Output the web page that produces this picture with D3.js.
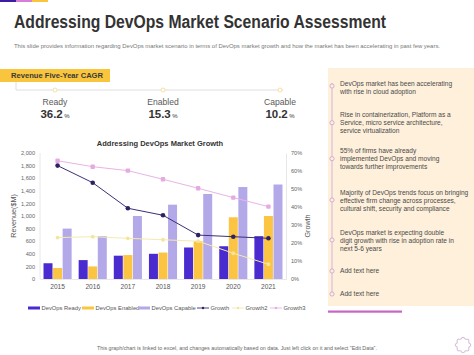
<!DOCTYPE html>
<html><head><meta charset="utf-8">
<script src="https://cdn.jsdelivr.net/npm/d3@7"></script>
<style>body{margin:0;background:#fff}svg{display:block;font-family:"Liberation Sans",Arial,sans-serif}</style>
</head><body>
<svg id="c" width="474" height="355"></svg>
<script>
const years = ["2015","2016","2017","2018","2019","2020","2021"];
const devopsReady = [250, 300, 370, 400, 500, 520, 680];
const devopsEnabled = [175, 200, 380, 420, 600, 980, 1000];
const devopsCapable = [800, 680, 1000, 1180, 1350, 1460, 1500];
const growth = [63, 53.5, 39.3, 35.4, 24.4, 23.5, 22.6];
const growth2 = [23, 23.5, 22.6, 21.8, 21, 14.3, 8.2];
const growth3 = [65.7, 62.4, 60.2, 55.4, 50.4, 45.2, 40.2];
const leftTicks = [0,200,400,600,800,1000,1200,1400,1600,1800,2000];
const rightTicks = [0,10,20,30,40,50,60,70];
const cagrNames = ["Ready","Enabled","Capable"];
const cagrValues = ["36.2","15.3","10.2"];
const notes = [
  ["DevOps  market has been accelerating","with rise in cloud adoption"],
  ["Rise in containerization, Platform as a","Service,  micro service architecture,","service virtualization"],
  ["55% of firms have  already","implemented DevOps and moving","towards further improvements"],
  ["Majority of DevOps  trends focus on bringing","effective  firm change across processes,","cultural shift, security and compliance"],
  ["DevOps  market is expecting double","digit growth with rise in adoption rate in","next 5-6 years"],
  ["Add text here"],
  ["Add text here"]
];

const svg = d3.select("#c");
const C = {ready:"#4a2bd0", enabled:"#fbc543", capable:"#b4a9e8", g:"#2f2163", g2:"#f5eaae", g3:"#e9b4e4"};

// top decoration
[["#3f1c9f",0],["#d67ed5",16],["#f8c53d",32]].forEach(([c,x])=>svg.append("rect").attr("x",x).attr("y",0).attr("width",16).attr("height",2).attr("fill",c));

svg.append("text").attr("x",14).attr("y",27.5).attr("font-size",18).attr("font-weight","bold").attr("fill","#333")
  .attr("textLength",372).attr("lengthAdjust","spacingAndGlyphs").text("Addressing DevOps Market Scenario Assessment");
svg.append("text").attr("x",14).attr("y",48).attr("font-size",6.2).attr("fill","#777")
  .attr("textLength",426).attr("lengthAdjust","spacingAndGlyphs")
  .text("This slide provides information regarding DevOps market scenario in terms of DevOps market growth and how the market has been accelerating in past few years.");

// CAGR box
svg.append("rect").attr("x",0).attr("y",69).attr("width",110).attr("height",13).attr("fill","#f8c53d");
svg.append("text").attr("x",11).attr("y",78.3).attr("font-size",7.6).attr("font-weight","bold").attr("fill","#3a3a3a").text("Revenue Five-Year CAGR");
svg.append("path").attr("d","M16,82V90H283").attr("fill","none").attr("stroke","#d6d6d6").attr("stroke-width",0.8);
const cagrPos = [55,163,280];
cagrNames.forEach((n,i)=>{
  const cx = cagrPos[i];
  svg.append("circle").attr("cx",cx).attr("cy",90).attr("r",2).attr("fill","#fff").attr("stroke","#f3d98a").attr("stroke-width",0.8);
  svg.append("text").attr("x",cx).attr("y",104.5).attr("text-anchor","middle").attr("font-size",8.6).attr("fill","#5a5a5a").text(n);
  const t = svg.append("text").attr("x",cx).attr("y",117.5).attr("text-anchor","middle").attr("fill","#333");
  t.append("tspan").attr("font-size",11.5).attr("font-weight","bold").text(cagrValues[i]);
  t.append("tspan").attr("font-size",6).attr("dx",1.5).text("%");
});

// chart
const x0 = d3.scaleBand().domain(years).range([40,286]).paddingInner(0.2).paddingOuter(0.1);
const series = ["ready","enabled","capable"];
const x1 = d3.scaleBand().domain(series).range([0,x0.bandwidth()]).paddingInner(0.06);
const yL = d3.scaleLinear().domain([0,2000]).range([279,153]);
const yR = d3.scaleLinear().domain([0,70]).range([279,153]);

svg.append("text").attr("x",160).attr("y",146).attr("text-anchor","middle").attr("font-size",7.5).attr("font-weight","bold").attr("fill","#333").text("Addressing DevOps Market Growth");

const axL = svg.append("g").attr("transform","translate(40,0)").call(d3.axisLeft(yL).tickValues(leftTicks).tickSize(0).tickPadding(5).tickFormat(d3.format(",")));
const axR = svg.append("g").attr("transform","translate(286,0)").call(d3.axisRight(yR).tickValues(rightTicks).tickSize(0).tickPadding(5).tickFormat(d=>d+"%"));
const axB = svg.append("g").attr("transform","translate(0,279)").call(d3.axisBottom(x0).tickSize(0).tickPadding(5));
[axL,axR,axB].forEach(a=>{a.selectAll("path").attr("stroke","#e2e2e2").attr("stroke-width",0.8);a.selectAll("text").attr("fill","#666").attr("font-size",5.6).attr("font-family","Liberation Sans, Arial, sans-serif");});
axB.selectAll("text").attr("font-size",6.6).attr("fill","#555");
axL.select("path").remove();
svg.append("line").attr("x1",40).attr("x2",40).attr("y1",153).attr("y2",279).attr("stroke","#e2e2e2").attr("stroke-width",0.8);

svg.append("text").attr("transform","translate(16,216) rotate(-90)").attr("text-anchor","middle").attr("font-size",7.2).attr("fill","#555").text("Revenue($M)");
svg.append("text").attr("transform","translate(310,226) rotate(-90)").attr("text-anchor","middle").attr("font-size",7.2).attr("fill","#555").text("Growth");

const barData = {ready:devopsReady, enabled:devopsEnabled, capable:devopsCapable};
series.forEach(s=>{
  svg.append("g").selectAll("rect").data(years).join("rect")
    .attr("x",d=>x0(d)+x1(s)).attr("width",x1.bandwidth())
    .attr("y",(d,i)=>yL(barData[s][i])).attr("height",(d,i)=>yL(0)-yL(barData[s][i]))
    .attr("fill",C[s]);
});
const cx = d=>x0(d)+x0.bandwidth()/2;
const line = arr=>d3.line().x((d,i)=>cx(years[i])).y(d=>yR(d))(arr);
svg.append("path").attr("d",line(growth3)).attr("fill","none").attr("stroke",C.g3).attr("stroke-width",1);
svg.append("g").selectAll("rect").data(growth3).join("rect").attr("x",(d,i)=>cx(years[i])-2.2).attr("y",d=>yR(d)-2.2).attr("width",4.4).attr("height",4.4).attr("rx",1).attr("fill","#e6aae2");
svg.append("path").attr("d",line(growth2)).attr("fill","none").attr("stroke",C.g2).attr("stroke-width",1);
svg.append("g").selectAll("circle").data(growth2).join("circle").attr("cx",(d,i)=>cx(years[i])).attr("cy",d=>yR(d)).attr("r",1.9).attr("fill","#f3e59c");
svg.append("path").attr("d",line(growth)).attr("fill","none").attr("stroke","#3b2f78").attr("stroke-width",1);
svg.append("g").selectAll("circle").data(growth).join("circle").attr("cx",(d,i)=>cx(years[i])).attr("cy",d=>yR(d)).attr("r",2.3).attr("fill",C.g);

// legend
const leg = [
  {t:"DevOps Ready",c:C.ready,type:"bar",x:28},
  {t:"DevOps Enabled",c:C.enabled,type:"bar",x:82},
  {t:"DevOps Capable",c:C.capable,type:"bar",x:138},
  {t:"Growth",c:"#3b2f78",m:C.g,type:"line",x:197},
  {t:"Growth2",c:C.g2,m:"#f3e59c",type:"line",x:232},
  {t:"Growth3",c:C.g3,m:"#e6aae2",type:"line",x:270}
];
leg.forEach(l=>{
  if(l.type==="bar") svg.append("rect").attr("x",l.x).attr("y",306.5).attr("width",12).attr("height",3).attr("fill",l.c);
  else { svg.append("line").attr("x1",l.x).attr("x2",l.x+12).attr("y1",308).attr("y2",308).attr("stroke",l.c).attr("stroke-width",0.9);
         svg.append("circle").attr("cx",l.x+6).attr("cy",308).attr("r",1.2).attr("fill",l.m); }
  svg.append("text").attr("x",l.x+13.5).attr("y",310).attr("font-size",5.8).attr("fill","#555").text(l.t);
});

// footer
svg.append("text").attr("x",97).attr("y",350).attr("font-size",5.4).attr("fill","#666").attr("textLength",280).attr("lengthAdjust","spacingAndGlyphs")
  .text('This graph/chart is linked to excel, and changes automatically based on data. Just left click on it and select "Edit Data".');

// right panel
svg.append("rect").attr("x",328).attr("y",68).attr("width",146).attr("height",238).attr("fill","#fef0db");
svg.append("rect").attr("x",328).attr("y",310.5).attr("width",74).attr("height",2.2).attr("fill","#c866c4");
svg.append("line").attr("x1",332).attr("x2",332).attr("y1",83).attr("y2",294).attr("stroke","#d9bfdc").attr("stroke-width",1.2);
const noteTop = [83.3,114.3,151,192.7,232.3,271,294];
const circleY = [86,122.7,158.7,200,240,271,294];
notes.forEach((lines,i)=>{
  const t = svg.append("text").attr("font-size",6.6).attr("fill","#4a4a4a");
  lines.forEach((ln,j)=>t.append("tspan").attr("x",340).attr("y",noteTop[i]+2.3+j*8).text(ln));
  svg.append("circle").attr("cx",332).attr("cy",circleY[i]).attr("r",2.1).attr("fill","#fef0db").attr("stroke","#cfa6d2").attr("stroke-width",0.9);
});

// decorative flower
const petals = d3.range(0,361,4).map(a=>{const r=a*Math.PI/180; const rr=7+0.7*Math.cos(8*r); return [463+rr*Math.sin(r),345-rr*Math.cos(r)];});
svg.append("path").attr("d",d3.line()(petals)+"Z").attr("fill","none").attr("stroke","#d8c0dc").attr("stroke-width",1.1);
</script>
</body></html>
